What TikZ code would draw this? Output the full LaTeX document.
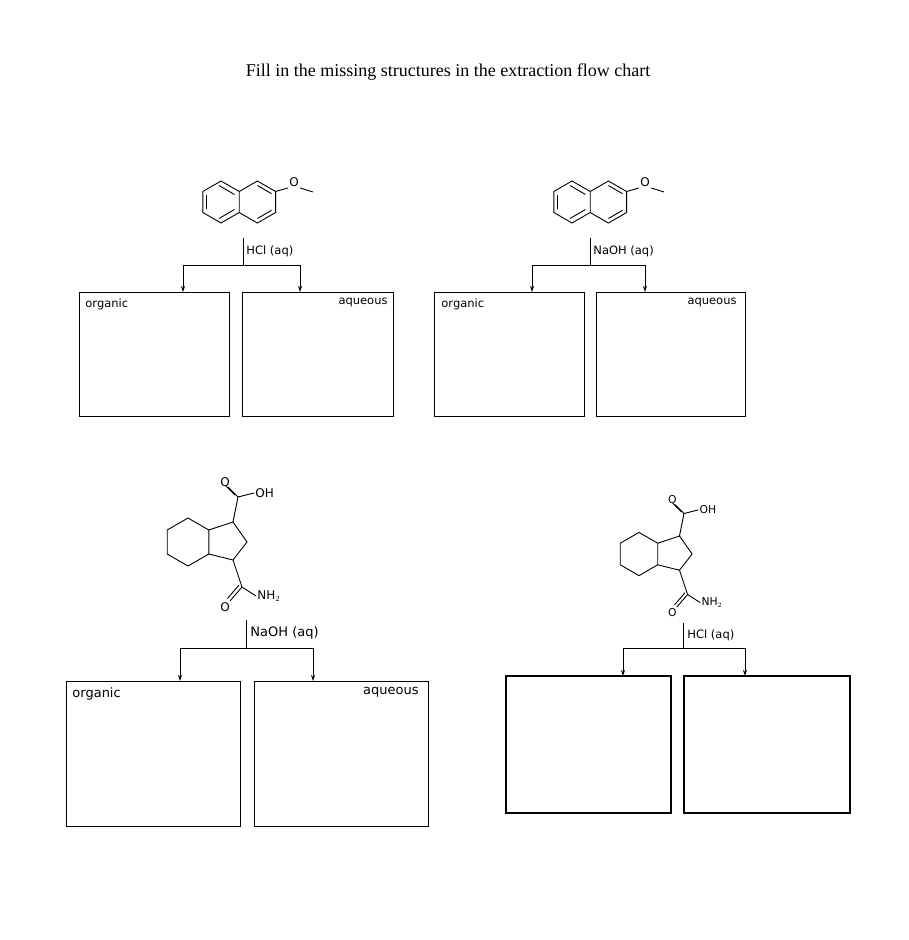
\documentclass[tikz,border=0pt]{standalone}
\usepackage{fontspec}
\usetikzlibrary{arrows.meta}
\setmainfont{Liberation Serif}
\newfontfamily\dv{DejaVu Sans}
\begin{document}
\begin{tikzpicture}[x=1pt,y=-1pt,line width=0.9pt,
  lbl/.style={font=\dv\fontsize{11.5}{13}\selectfont,inner sep=1pt},
  atom/.style={font=\dv\fontsize{12}{14}\selectfont,inner sep=1pt},
  box/.style={draw,line width=1pt},
  tbox/.style={draw,line width=1.8pt},
  arr/.style={-{Stealth[length=6pt,width=4pt]},line width=1pt}]
\useasboundingbox (0,0) rectangle (908,940);
\node[font=\fontsize{18}{20}\selectfont] (title) at (448,72) {Fill in the missing structures in the extraction flow chart};
% naphthalene macro
\newcommand{\naph}[2]{%
\begin{scope}[shift={(#1,#2)}]
 \draw (0,-21)--(18.2,-10.5)--(18.2,10.5)--(0,21)--(-18.2,10.5)--(-18.2,-10.5)--cycle;
 \draw (18.2,-10.5)--(36.4,-21)--(54.6,-10.5)--(54.6,10.5)--(36.4,21)--(18.2,10.5);
 \draw (-14.5,-7)--(-14.5,7) (-2,-16.5)--(13.5,-7.5) (-2,16.5)--(13.5,7.5);
 \draw (36.4,-16.5)--(50.6,-8.3) (36.4,16.5)--(50.6,8.3);
 \node[atom] (o) at (73,-20) {O};
 \draw (54.6,-10.5)--(o.south west) (o.south east)--(92,-10);
\end{scope}}
\newcommand{\diacid}[3]{%
\begin{scope}[shift={(#1,#2)},scale=#3]
 \draw (0,-24)--(20.8,-12)--(20.8,12)--(0,24)--(-20.8,12)--(-20.8,-12)--cycle;
 \draw (20.8,-12)--(45,-20)--(59,0)--(45,18)--(20.8,12);
 \draw (45,-20)--(50,-45) (45,18)--(54,45);
 \node[atom,scale=#3] (oa) at (37,-60) {O};
 \node[atom,scale=#3,anchor=west] (oh) at (66,-49) {OH};
 \node[atom,scale=#3] (ob) at (37,65) {O};
 \node[atom,scale=#3,anchor=west] (nh) at (68,54) {NH$_2$};
 \draw (50,-45)--(oh.west) (54,45)--(nh.west);
 \draw (50,-45)--(40,-55) (47,-47)--(37.5,-56.5);
 \draw (54,45)--(42,59) (51,43)--(39.5,56.5);
\end{scope}}
% top-left
\naph{221}{202}
\coordinate (s1) at (243,238);
\coordinate (j1) at (243,265);
\node[box,minimum width=150pt,minimum height=124pt] (b1) at (154,354) {};
\node[box,minimum width=151pt,minimum height=124pt] (b2) at (317.5,354) {};
\draw (s1)--(j1) (183,265)--(300,265);
\draw[arr] (183,265)--(183,292);
\draw[arr] (300,265)--(300,292);
\node[lbl,anchor=west] (l1) at (245,251) {HCl (aq)};
\node[lbl,anchor=west] (o1) at (84,304) {organic};
\node[lbl,anchor=east] (a1) at (389,302) {aqueous};
% top-right
\naph{572}{202}
\coordinate (s2) at (590,238);
\coordinate (j2) at (590,265);
\node[box,minimum width=150pt,minimum height=124pt] (b3) at (509,354) {};
\node[box,minimum width=149pt,minimum height=124pt] (b4) at (670.5,354) {};
\draw (s2)--(j2) (532,265)--(645,265);
\draw[arr] (532,265)--(532,292);
\draw[arr] (645,265)--(645,292);
\node[lbl,anchor=west] (l2) at (592,251) {NaOH (aq)};
\node[lbl,anchor=west] (o2) at (440,304) {organic};
\node[lbl,anchor=east] (a2) at (738,302) {aqueous};
% bottom-left
\diacid{188}{542}{1}
\coordinate (s3) at (246,620);
\coordinate (j3) at (246,648);
\node[box,minimum width=174pt,minimum height=145pt] (b5) at (153,753.5) {};
\node[box,minimum width=174pt,minimum height=145pt] (b6) at (341,753.5) {};
\draw (s3)--(j3) (180,648)--(313,648);
\draw[arr] (180,648)--(180,681);
\draw[arr] (313,648)--(313,681);
\node[lbl,font=\dv\fontsize{13}{15}\selectfont,anchor=west] (l3) at (249,633) {NaOH (aq)};
\node[lbl,font=\dv\fontsize{13}{15}\selectfont,anchor=west] (o3) at (71,694) {organic};
\node[lbl,font=\dv\fontsize{13}{15}\selectfont,anchor=east] (a3) at (420,692) {aqueous};
% bottom-right
\diacid{639}{554}{0.9}
\coordinate (s4) at (683,623);
\coordinate (j4) at (683,648);
\node[tbox,minimum width=165pt,minimum height=137pt] (b7) at (588.5,744.5) {};
\node[tbox,minimum width=166pt,minimum height=137pt] (b8) at (767,744.5) {};
\draw (s4)--(j4) (623,648)--(745,648);
\draw[arr] (623,648)--(623,676);
\draw[arr] (745,648)--(745,676);
\node[lbl,anchor=west] (l4) at (686,635) {HCl (aq)};
\end{tikzpicture}
\end{document}
